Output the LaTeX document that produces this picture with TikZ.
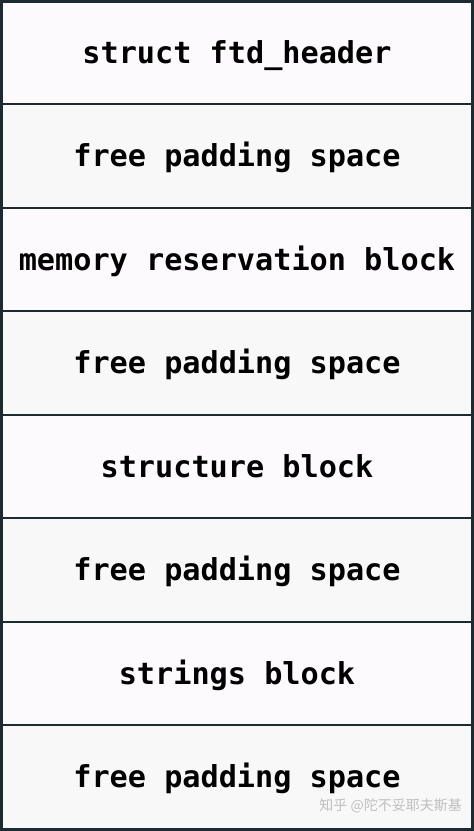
\documentclass[tikz,border=0pt]{standalone}
\usepackage{fontspec}
\setmonofont{DejaVu Sans Mono}
\newfontfamily\zhfont{Noto Sans CJK SC}
\usetikzlibrary{positioning}
\definecolor{edgecol}{HTML}{1C2A32}
\definecolor{rowA}{HTML}{FDFAFD}
\definecolor{rowB}{HTML}{F7F8F7}

\begin{document}
\begin{tikzpicture}[
  x=1pt,y=1pt,
  field/.style={draw=edgecol, line width=2.2pt, outer sep=0pt, inner sep=0pt,
    minimum width=471pt, minimum height=103.5pt,
    text height=26pt, text depth=4.6pt,
    font=\ttfamily\bfseries\fontsize{30.2}{30.2}\selectfont},
  fieldA/.style={field, fill=rowA},
  fieldB/.style={field, fill=rowB}
]
\useasboundingbox (0,0) rectangle (474,-831);
\node[fieldA, anchor=north] (hdr) at (237,-0.75) {struct ftd\_header};
\node[fieldB, below=0pt of hdr] (pad1) {free padding space};
\node[fieldA, below=0pt of pad1] (memrsv) {memory reservation block};
\node[fieldB, below=0pt of memrsv] (pad2) {free padding space};
\node[fieldA, below=0pt of pad2] (struct) {structure block};
\node[fieldB, below=0pt of struct] (pad3) {free padding space};
\node[fieldA, below=0pt of pad3] (strings) {strings block};
\node[fieldB, below=0pt of strings] (pad4) {free padding space};
% outer frame, a bit heavier than the row lines
\draw[edgecol, line width=3pt] (1.5,-1.5) rectangle (472.5,-829.5);
\node[text=black!25, anchor=east, inner sep=0pt,
      font=\zhfont\fontsize{14}{14}\selectfont] (mark) at (462,-806) {知乎 @陀不妥耶夫斯基};
\end{tikzpicture}
\end{document}
